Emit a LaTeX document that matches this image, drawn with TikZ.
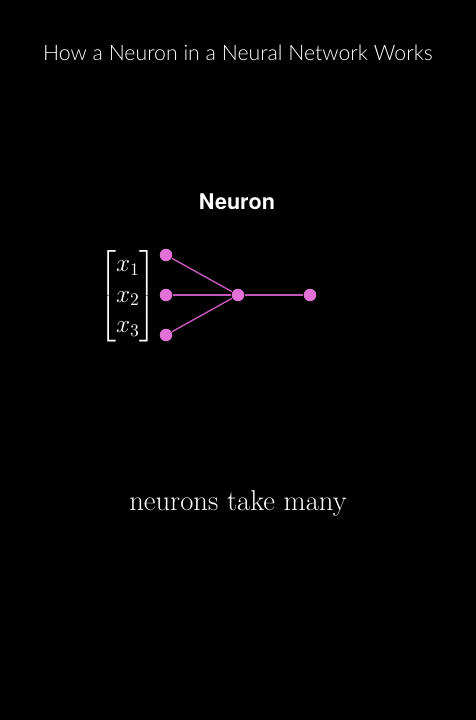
\documentclass[tikz,border=0pt]{standalone}
\usepackage{amsmath,amssymb}
\usepackage{fontspec}
\newfontfamily\titlefont{Lato Light}
\newfontfamily\headfont{TeX Gyre Heros}
\usepackage{tikz}
\definecolor{dotpink}{RGB}{226,112,214}
\definecolor{linkpink}{RGB}{196,88,186}
\tikzset{
    unit/.style={circle, fill=dotpink, inner sep=0pt, minimum size=0.25cm},
    link/.style={draw=linkpink, line width=0.8pt}
}

\begin{document}
\begin{tikzpicture}[x=0.02cm, y=-0.02cm, thick]
    \fill[black] (0,0) rectangle (476,720);

    \node[white] (title) at (238,53) {\titlefont\fontsize{12.1}{15}\selectfont How a Neuron in a Neural Network Works};
    \node[white] (head) at (237,202) {\headfont\bfseries\fontsize{12.3}{14}\selectfont Neuron};

    \node[white] (vec) at (128,296) {\fontsize{14.4}{17.5}\selectfont $\begin{bmatrix} x_1\\ x_2\\ x_3 \end{bmatrix}$};

    \node[unit] (in1) at (166,255) {};
    \node[unit] (in2) at (166,295) {};
    \node[unit] (in3) at (166,335) {};
    \node[unit] (mid) at (238,295) {};
    \node[unit] (out) at (310,295) {};

    \draw[link] (in1) -- (mid);
    \draw[link] (in2) -- (mid);
    \draw[link] (in3) -- (mid);
    \draw[link] (mid) -- (out);

    \node[white] (cap) at (238,503) {\fontsize{16.3}{19}\selectfont neurons take many};
\end{tikzpicture}
\end{document}
